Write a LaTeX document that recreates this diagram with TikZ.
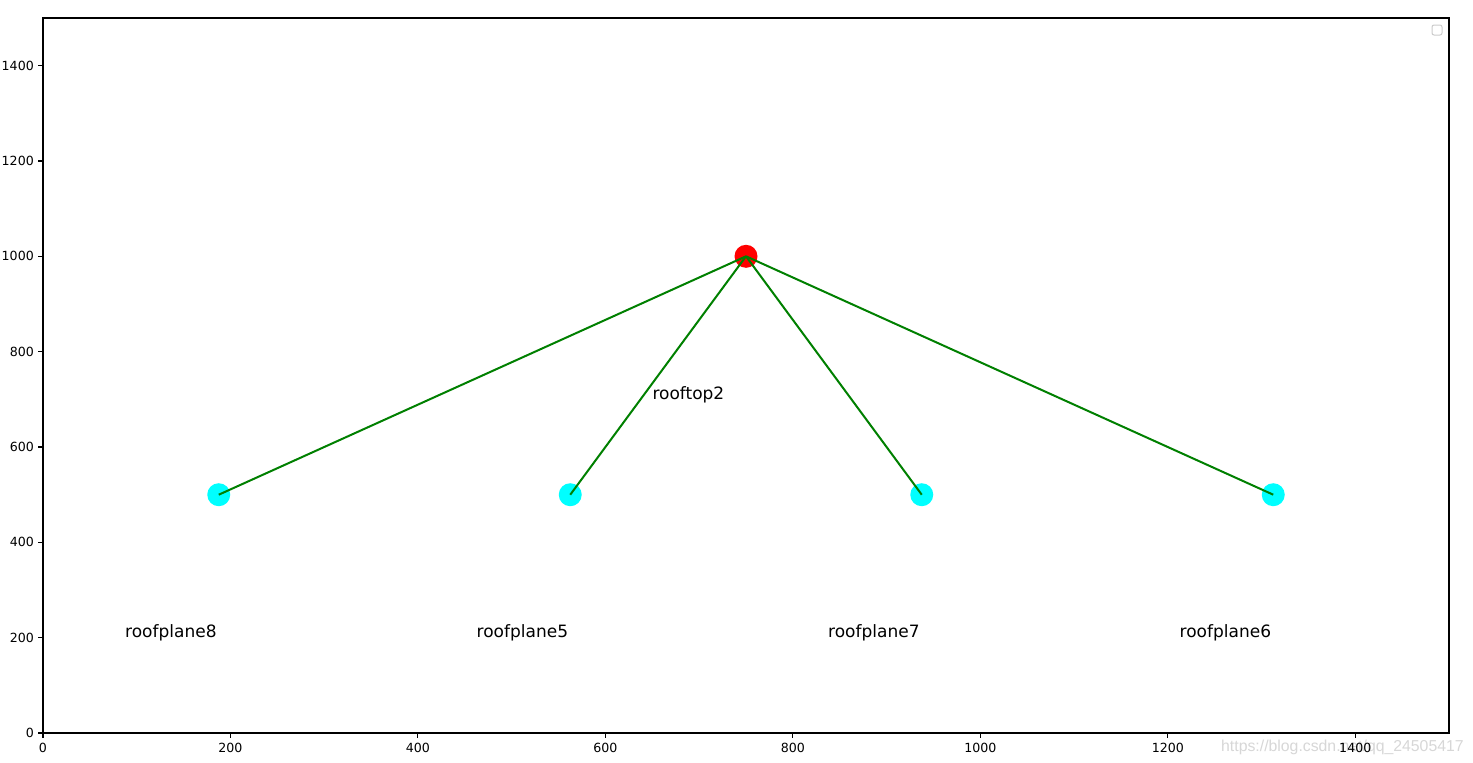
\documentclass[tikz,border=0pt]{standalone}
\usepackage{fontspec}
\setmainfont{DejaVu Sans}
\newfontfamily\wmfont{Liberation Sans}
\definecolor{mplgreen}{RGB}{0,128,0}
\definecolor{mplcyan}{RGB}{0,255,255}
\definecolor{mplred}{RGB}{255,0,0}
\definecolor{wmgray}{RGB}{215,215,215}
\definecolor{leggray}{RGB}{204,204,204}
\begin{document}
\begin{tikzpicture}[x=1pt,y=-1pt,
  dot/.style={circle,minimum size=23pt,inner sep=0pt,draw=none},
  edge/.style={draw=mplgreen,line width=2pt},
  lbl/.style={anchor=base west,inner sep=0pt,font=\fontsize{17}{20}\selectfont},
  xtick/.style={anchor=base,inner sep=0pt,font=\fontsize{12.6}{15}\selectfont},
  ytick/.style={anchor=base east,inner sep=0pt,font=\fontsize{12.6}{15}\selectfont},
  spine/.style={draw=black,line width=1.1pt}]
\useasboundingbox (0,0) rectangle (1473,763);
\fill[white] (0,0) rectangle (1473,763);
% watermark
\node[anchor=base west,inner sep=0pt,text=wmgray,font=\wmfont\fontsize{15.8}{18}\selectfont] (wm) at (1221,751) {https://blog.csdn.net/qq\_24505417};
% axes frame
\draw[spine] (43,18) rectangle (1449,733);
% x ticks
\foreach \v in {0,200,...,1400}{
  \pgfmathsetmacro{\px}{43+\v*0.93733}
  \draw[line width=1.1pt] (\px,733) -- (\px,738);
  \node[xtick] at (\px,752) {\v};
}
% y ticks
\foreach \v in {0,200,...,1400}{
  \pgfmathsetmacro{\py}{733-\v*0.47667}
  \draw[line width=1.1pt] (43,\py) -- (38,\py);
  \node[ytick] at (34,\py+4.6) {\v};
}
% legend box
\node[draw=leggray,line width=1pt,rounded corners=2pt,minimum size=10pt,inner sep=0pt] (leg) at (1437,30) {};
% nodes
\node[dot,fill=mplred] (top) at (746.0,256.3) {};
\node[dot,fill=mplcyan] (p8) at (218.75,494.7) {};
\node[dot,fill=mplcyan] (p5) at (570.25,494.7) {};
\node[dot,fill=mplcyan] (p7) at (921.75,494.7) {};
\node[dot,fill=mplcyan] (p6) at (1273.25,494.7) {};
% connectors
\draw[edge] (top.center) -- (p8.center);
\draw[edge] (top.center) -- (p5.center);
\draw[edge] (top.center) -- (p7.center);
\draw[edge] (top.center) -- (p6.center);
% labels
\node[lbl] (ltop) at (652.3,399.3) {rooftop2};
\node[lbl] (l8) at (125.0,637.7) {roofplane8};
\node[lbl] (l5) at (476.5,637.7) {roofplane5};
\node[lbl] (l7) at (828.0,637.7) {roofplane7};
\node[lbl] (l6) at (1179.5,637.7) {roofplane6};
\end{tikzpicture}
\end{document}
